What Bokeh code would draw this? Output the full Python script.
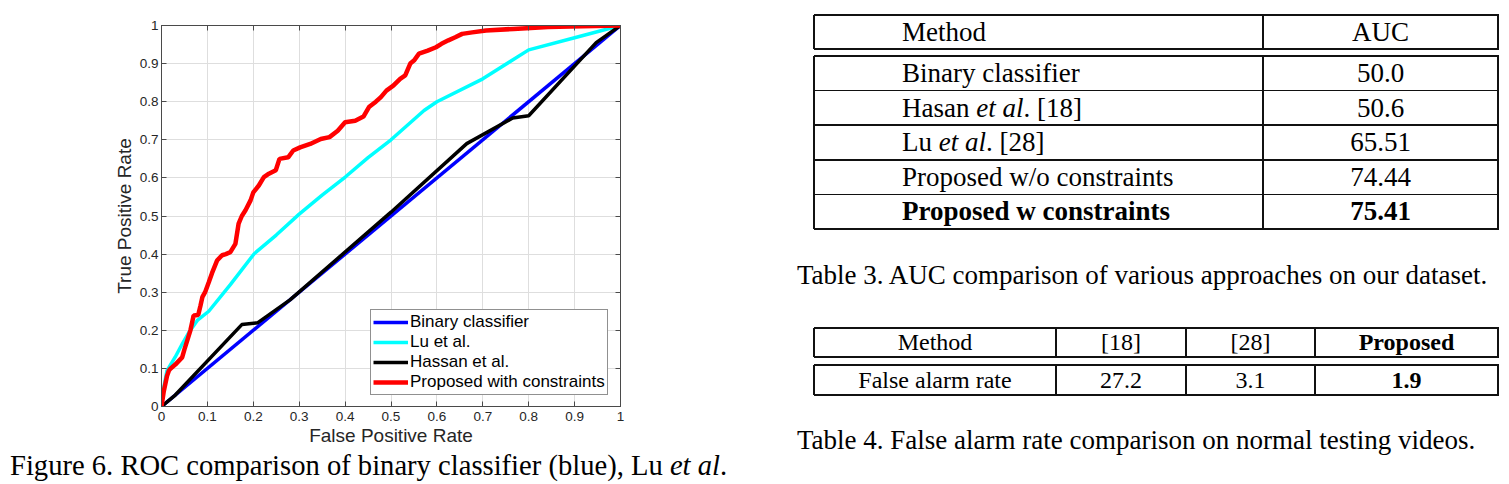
from bokeh.plotting import figure
from bokeh.models import Range1d, FixedTicker, LinearAxis, Legend, LegendItem, Div
from bokeh.layouts import row, column
from bokeh.embed import file_html
from bokeh.resources import INLINE

# ---------------- data ----------------
tick_values = [0, 0.1, 0.2, 0.3, 0.4, 0.5, 0.6, 0.7, 0.8, 0.9, 1.0]
tick_labels = ["0", "0.1", "0.2", "0.3", "0.4", "0.5", "0.6", "0.7", "0.8", "0.9", "1"]

series_names = ["Binary classifier", "Lu et al.", "Hassan et al.", "Proposed with constraints"]

binary_fpr = [0.0, 1.0]
binary_tpr = [0.0, 1.0]

lu_fpr = [0, 0.005, 0.012, 0.03, 0.045, 0.06, 0.078, 0.103, 0.15, 0.202, 0.25, 0.30, 0.35,
          0.401, 0.45, 0.5, 0.572, 0.6, 0.7, 0.8, 0.9, 1.0]
lu_tpr = [0, 0.05, 0.094, 0.13, 0.164, 0.195, 0.226, 0.25, 0.32, 0.401, 0.45, 0.505, 0.555,
          0.603, 0.653, 0.70, 0.777, 0.80, 0.86, 0.936, 0.968, 1.0]

hassan_fpr = [0, 0.03, 0.175, 0.21, 0.28, 0.5, 0.665, 0.765, 0.80, 0.947, 1.0]
hassan_tpr = [0, 0.03, 0.215, 0.22, 0.28, 0.51, 0.69, 0.757, 0.763, 0.955, 1.0]

prop_fpr = [0, 0.005, 0.012, 0.016, 0.02, 0.03, 0.045, 0.05, 0.056, 0.063, 0.07, 0.08, 0.085,
            0.089, 0.095, 0.103, 0.11, 0.121, 0.132, 0.14, 0.15, 0.161, 0.168, 0.175, 0.183,
            0.194, 0.2, 0.212, 0.223, 0.234, 0.249, 0.257, 0.276, 0.287, 0.302, 0.324, 0.347,
            0.366, 0.384, 0.4, 0.422, 0.44, 0.452, 0.467, 0.478, 0.49, 0.505, 0.52, 0.531,
            0.542, 0.55, 0.561, 0.58, 0.598, 0.61, 0.625, 0.64, 0.655, 0.677, 0.707, 0.767,
            0.842, 0.917, 1.0]
prop_tpr = [0, 0.04, 0.08, 0.094, 0.1, 0.11, 0.129, 0.15, 0.173, 0.2, 0.239, 0.24, 0.265,
            0.287, 0.3, 0.326, 0.35, 0.383, 0.397, 0.4, 0.405, 0.427, 0.48, 0.5, 0.515,
            0.541, 0.562, 0.58, 0.602, 0.611, 0.62, 0.65, 0.654, 0.672, 0.68, 0.689, 0.702,
            0.707, 0.724, 0.746, 0.75, 0.761, 0.786, 0.80, 0.812, 0.829, 0.842, 0.86, 0.869,
            0.9, 0.908, 0.926, 0.934, 0.943, 0.952, 0.961, 0.969, 0.978, 0.982, 0.987, 0.991,
            0.996, 0.998, 1.0]

x_title = "False Positive Rate"
y_title = "True Positive Rate"

# Table 3 (HTML markup for italics / bold inside cells)
t3_header = ["Method", "AUC"]
t3_methods = ["Binary classifier", "Hasan <i>et al</i>. [18]", "Lu <i>et al</i>. [28]",
              "Proposed w/o constraints", "<b>Proposed w constraints</b>"]
t3_auc = ["50.0", "50.6", "65.51", "74.44", "<b>75.41</b>"]
t3_caption = "Table 3. AUC comparison of various approaches on our dataset."

# Table 4
t4_header = ["Method", "[18]", "[28]", "<b>Proposed</b>"]
t4_row = ["False alarm rate", "27.2", "3.1", "<b>1.9</b>"]
t4_caption = "Table 4. False alarm rate comparison on normal testing videos."

fig_caption = "Figure 6. ROC comparison of binary classifier (blue), Lu <i>et al</i>."

# ---------------- styling constants ----------------
SANS = "Liberation Sans"
SERIF = "'Liberation Serif', 'Times New Roman', serif"
TXT = "#262626"
AXC = "#4a4a4a"

# ---------------- ROC figure ----------------
FL, FT, FW, FH = 161, 25, 459, 381
PW, PH = 780, 452

p = figure(width=PW, height=PH, x_range=Range1d(0, 1), y_range=Range1d(0, 1),
           output_backend="svg", toolbar_location=None,
           min_border_left=FL, min_border_right=PW - FL - FW,
           min_border_top=FT, min_border_bottom=PH - FT - FH,
           background_fill_color="white", border_fill_color="white",
           outline_line_color=AXC, outline_line_width=1)

ticker = FixedTicker(ticks=tick_values, minor_ticks=[])
overrides = {v: lab for v, lab in zip(tick_values, tick_labels)}

for ax in (p.xaxis[0], p.yaxis[0]):
    ax.ticker = ticker
    ax.major_label_overrides = overrides
    ax.major_tick_in = 5
    ax.major_tick_out = 0
    ax.minor_tick_in = 0
    ax.minor_tick_out = 0
    ax.axis_line_color = AXC
    ax.major_tick_line_color = AXC
    ax.major_label_text_font = SANS
    ax.major_label_text_font_size = "13.5px"
    ax.major_label_text_color = TXT
    ax.axis_label_text_font = SANS
    ax.axis_label_text_font_size = "19px"
    ax.axis_label_text_font_style = "normal"
    ax.axis_label_text_color = TXT

p.xaxis[0].axis_label = x_title
p.yaxis[0].axis_label = y_title
p.xaxis[0].major_label_standoff = 5
p.xaxis[0].axis_label_standoff = 1
p.yaxis[0].major_label_standoff = 3
p.yaxis[0].axis_label_standoff = 2

for loc in ("above", "right"):
    ax = LinearAxis(ticker=ticker, major_label_text_color=None, major_tick_in=5,
                    major_tick_out=0, minor_tick_in=0, minor_tick_out=0,
                    axis_line_color=AXC, major_tick_line_color=AXC,
                    major_label_standoff=0, major_label_text_font_size="8px")
    p.add_layout(ax, loc)

p.xgrid.ticker = ticker
p.ygrid.ticker = ticker
p.grid.grid_line_color = "#dedede"
p.grid.grid_line_width = 1

r_bin = p.line(binary_fpr, binary_tpr, line_color="#0000ff", line_width=3.5)
r_lu = p.line(lu_fpr, lu_tpr, line_color="#00ffff", line_width=3.5)
r_has = p.line(hassan_fpr, hassan_tpr, line_color="#000000", line_width=3.5)
r_pro = p.line(prop_fpr, prop_tpr, line_color="#ff0000", line_width=4.5)

legend = Legend(items=[LegendItem(label=n, renderers=[r])
                       for n, r in zip(series_names, [r_bin, r_lu, r_has, r_pro])],
                location=(209, 11), orientation="vertical",
                border_line_color="#222222", border_line_width=1,
                background_fill_color="white", background_fill_alpha=1.0,
                label_text_font=SANS, label_text_font_size="17px", label_text_color="black",
                glyph_width=35, glyph_height=20, label_height=20, label_standoff=2,
                spacing=0, padding=2, margin=0)
p.add_layout(legend)

# ---------------- caption under the chart (HTML) ----------------
CAP_H = 484 - PH
cap_html = (f'<div style="position:relative;width:{PW}px;height:{CAP_H}px;'
            f'font-family:{SERIF};color:black;">'
            f'<div style="position:absolute;left:10px;top:0px;height:28px;line-height:28px;'
            f'font-size:28.6px;white-space:nowrap;">{fig_caption}</div></div>')
cap_div = Div(text=cap_html, width=PW, height=CAP_H, margin=0)

# ---------------- tables (HTML) ----------------
X0 = PW
TW = 1509 - PW
parts = []


def hline(xa, xb, y, w=1.5):
    parts.append(f'<div style="position:absolute;left:{xa - X0:.1f}px;top:{y - w / 2:.2f}px;'
                 f'width:{xb - xa + w / 2:.1f}px;height:{w}px;background:#111;"></div>')


def vline(x, ya, yb, w=1.5):
    parts.append(f'<div style="position:absolute;left:{x - X0 - w / 2:.2f}px;top:{ya:.1f}px;'
                 f'width:{w}px;height:{yb - ya:.1f}px;background:#111;"></div>')


def cell(xa, xb, ya, yb, html, size, align):
    parts.append(f'<div style="position:absolute;left:{xa - X0:.1f}px;top:{ya:.1f}px;'
                 f'width:{xb - xa:.1f}px;height:{yb - ya:.1f}px;line-height:{yb - ya:.1f}px;'
                 f'font-size:{size}px;text-align:{align};white-space:nowrap;">{html}</div>')


# Table 3 layout
L3, R3, D3 = 814, 1498, 1263
H3T, H3B = 15, 49
B3T, RH3 = 56, 34.6
n3 = len(t3_auc)
B3B = B3T + n3 * RH3
FS3 = 27
MX = 902
hline(L3, R3, H3T); hline(L3, R3, H3B)
for v in (L3, D3, R3):
    vline(v, H3T, H3B)
    vline(v, B3T, B3B)
for i in range(n3 + 1):
    hline(L3, R3, B3T + i * RH3)
cell(MX, D3, H3T, H3B, t3_header[0], FS3, "left")
cell(D3, R3, H3T, H3B, t3_header[1], FS3, "center")
for i, (m, a) in enumerate(zip(t3_methods, t3_auc)):
    ya = B3T + i * RH3
    cell(MX, D3, ya, ya + RH3, m, FS3, "left")
    cell(D3, R3, ya, ya + RH3, a, FS3, "center")

cell(797, 1509, 261, 289, t3_caption, 27, "left")

# Table 4 layout
cols4 = [814, 1056, 1186, 1315, 1498]
H4T, H4B = 328, 357
R4T, R4B = 365, 395
FS4 = 24
for y in (H4T, H4B, R4T, R4B):
    hline(cols4[0], cols4[-1], y)
for v in cols4:
    vline(v, H4T, H4B)
    vline(v, R4T, R4B)
for j in range(len(t4_header)):
    cell(cols4[j], cols4[j + 1], H4T, H4B, t4_header[j], FS4, "center")
    cell(cols4[j], cols4[j + 1], R4T, R4B, t4_row[j], FS4, "center")

cell(797, 1509, 426, 454, t4_caption, 27, "left")

table_html = (f'<div style="position:relative;width:{TW}px;height:484px;overflow:hidden;'
              f'font-family:{SERIF};color:black;background:white;">' + "".join(parts) + '</div>')
table_div = Div(text=table_html, width=TW, height=484, margin=0)

layout = row(column(p, cap_div, spacing=0), table_div, spacing=0)
open("out.html", "w").write(file_html(layout, INLINE))
